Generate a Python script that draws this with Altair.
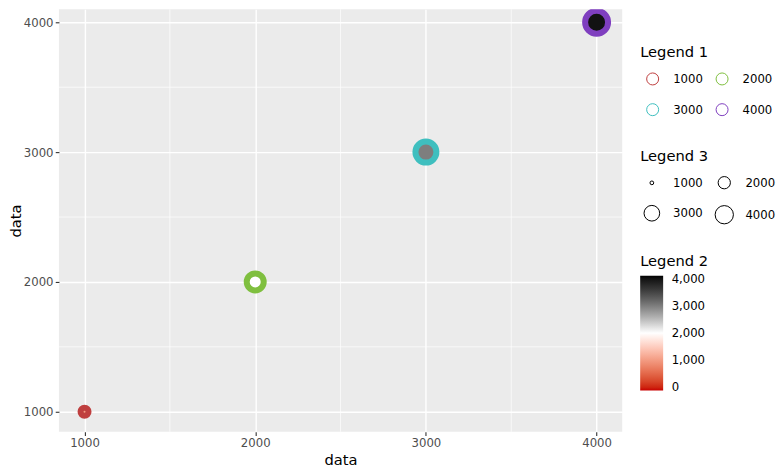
import altair as alt
import pandas as pd

# ---- data ----
x_vals = [1000, 2000, 3000, 4000]
y_vals = [1000, 2000, 3000, 4000]
groups = ["1000", "2000", "3000", "4000"]
fill_vals = [1000, 2000, 3000, 4000]
size_vals = [1000, 2000, 3000, 4000]
group_colors = ["#BF3F3F", "#7FBF3F", "#3FBFBF", "#7F3FBF"]
major_breaks = [1000, 2000, 3000, 4000]
minor_breaks = [1500, 2500, 3500]
fill_breaks = [0, 1000, 2000, 3000, 4000]

df = pd.DataFrame({"x": x_vals, "y": y_vals, "g": groups, "f": fill_vals, "s": size_vals})
minor_df = pd.DataFrame({"m": minor_breaks})

FONT = "DejaVu Sans"
xscale = alt.Scale(domain=[850, 4150], nice=False, zero=False)
yscale = alt.Scale(domain=[846, 4100], nice=False, zero=False)


def make_axis(pad):
    return alt.Axis(
        values=major_breaks, format="d", title="data", grid=True,
        gridColor="white", gridWidth=1.4, domain=False,
        tickColor="#333333", tickSize=3.7, tickWidth=1.1,
        labelColor="#4D4D4D", labelFontSize=11.7, labelPadding=2.2, labelFont=FONT,
        titleFontSize=14.7, titleColor="black", titleFontWeight="normal",
        titlePadding=pad, titleFont=FONT,
    )


x_axis = make_axis(3)
y_axis = make_axis(0)

legend_common = dict(
    orient="none", padding=0,
    titleFont=FONT, titleFontSize=14.7, titleFontWeight="normal", titleColor="black",
    labelFont=FONT, labelFontSize=11.7, labelColor="black",
)

minor_x = alt.Chart(minor_df).mark_rule(color="white", strokeWidth=0.7).encode(
    x=alt.X("m:Q", scale=xscale, axis=x_axis)
)
minor_y = alt.Chart(minor_df).mark_rule(color="white", strokeWidth=0.7).encode(
    y=alt.Y("m:Q", scale=yscale, axis=y_axis)
)

points = alt.Chart(df).mark_point(
    filled=True, opacity=1, strokeWidth=6, shape="circle", strokeJoin="round", clip=True
).encode(
    x=alt.X("x:Q", scale=xscale, axis=x_axis),
    y=alt.Y("y:Q", scale=yscale, axis=y_axis),
    stroke=alt.Stroke(
        "g:N",
        scale=alt.Scale(domain=groups, range=group_colors),
        legend=alt.Legend(
            title="Legend 1", legendX=582, legendY=35.9, columns=2, direction="horizontal",
            symbolType="circle", symbolSize=144, symbolStrokeWidth=1,
            symbolFillColor="transparent", titlePadding=12.4, rowPadding=14,
            columnPadding=6.5, labelOffset=14, symbolOffset=6,
            **legend_common,
        ),
    ),
    fill=alt.Fill(
        "f:Q",
        scale=alt.Scale(domain=[-116, 2000, 4116], range=["#C80000", "#FFFFFF", "#000000"], interpolate="lab"),
        legend=alt.Legend(
            title="Legend 2", type="gradient", legendX=582, legendY=245, direction="vertical",
            values=fill_breaks, format=",d", gradientLength=115, gradientThickness=23,
            gradientStrokeWidth=0, titlePadding=7, labelOffset=8.5,
            **legend_common,
        ),
    ),
    size=alt.Size("s:Q", scale=alt.Scale(domain=size_vals, range=[64, 289, 441, 529]), legend=None),
)

size_legend = alt.Chart(df).mark_point(opacity=0, shape="circle", clip=True).encode(
    x=alt.X("x:Q", scale=xscale, axis=x_axis),
    y=alt.Y("y:Q", scale=yscale, axis=y_axis),
    size=alt.Size(
        "s:Q",
        scale=alt.Scale(domain=size_vals, range=[14, 151, 246, 335]),
        legend=alt.Legend(
            title="Legend 3", legendX=582, legendY=139.5, columns=2, direction="horizontal",
            values=size_vals, format="d", symbolType="circle",
            symbolStrokeColor="black", symbolFillColor="transparent",
            symbolOpacity=1, symbolStrokeWidth=1, symbolOffset=1.7,
            titlePadding=12, rowPadding=11.5, columnPadding=9.5, labelOffset=11.2,
            **legend_common,
        ),
    ),
)

chart = (
    alt.layer(minor_x, minor_y, points, size_legend)
    .resolve_scale(size="independent")
    .properties(width=564, height=423, padding=0, background="white")
    .configure_view(fill="#EBEBEB", stroke=None)
)

chart.save("out.html", embed_options={"renderer": "svg", "actions": False})
